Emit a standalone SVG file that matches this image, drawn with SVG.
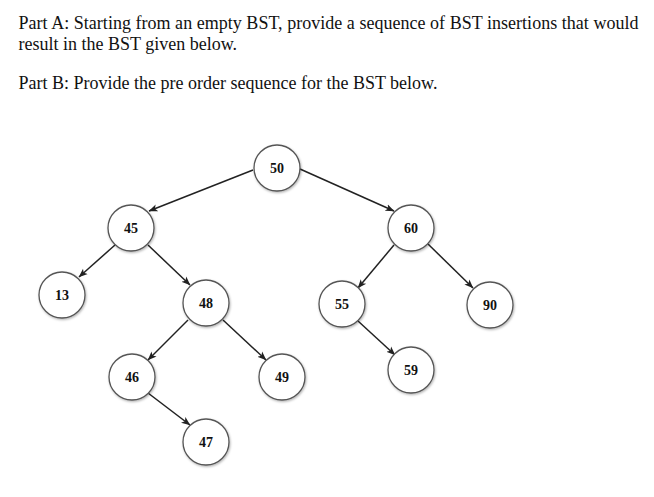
<svg xmlns="http://www.w3.org/2000/svg" width="654" height="497" viewBox="0 0 654 497">
<style>
.q{font-family:"Liberation Serif","Times New Roman",serif;font-size:18px;fill:#111}
.n circle{fill:#fff;stroke:#555;stroke-width:1.3}
.n text{font-family:"Liberation Serif","Times New Roman",serif;font-size:14px;font-weight:bold;fill:#111;text-anchor:middle}
.e line{stroke:#222;stroke-width:1.5}
</style>
<defs>
<marker id="ah" viewBox="0 0 10 10" refX="9.5" refY="5" markerWidth="9" markerHeight="9" markerUnits="userSpaceOnUse" orient="auto">
<path d="M0,1 L10,5 L0,9 L2.5,5 Z" fill="#222"/>
</marker>
<filter id="sh" x="-30%" y="-30%" width="160%" height="160%">
<feDropShadow dx="0.8" dy="1.2" stdDeviation="1" flood-color="#000" flood-opacity="0.3"/>
</filter>
</defs>
<rect width="654" height="497" fill="#fff"/>
<text class="q" x="18.5" y="29" textLength="620" lengthAdjust="spacing">Part A: Starting from an empty BST, provide a sequence of BST insertions that would</text>
<text class="q" x="18.5" y="50">result in the BST given below.</text>
<text class="q" x="18.5" y="89">Part B: Provide the pre order sequence for the BST below.</text>
<g id="edges" class="e">
<line x1="253" y1="170" x2="149" y2="211" marker-end="url(#ah)"/>
<line x1="300" y1="169" x2="394" y2="211" marker-end="url(#ah)"/>
<line x1="115" y1="245" x2="79" y2="277" marker-end="url(#ah)"/>
<line x1="148" y1="245" x2="190" y2="285" marker-end="url(#ah)"/>
<line x1="188" y1="320" x2="148" y2="360" marker-end="url(#ah)"/>
<line x1="223" y1="320" x2="266" y2="360" marker-end="url(#ah)"/>
<line x1="394" y1="245" x2="358" y2="288" marker-end="url(#ah)"/>
<line x1="428" y1="244" x2="473" y2="288" marker-end="url(#ah)"/>
<line x1="358" y1="321" x2="395" y2="355" marker-end="url(#ah)"/>
<line x1="148" y1="393" x2="190" y2="425" marker-end="url(#ah)"/>
</g>
<g id="n50" class="n"><circle cx="277" cy="168" r="23" filter="url(#sh)"/><text x="277" y="173">50</text></g>
<g id="n45" class="n"><circle cx="131" cy="228" r="23" filter="url(#sh)"/><text x="131" y="233">45</text></g>
<g id="n60" class="n"><circle cx="411" cy="228" r="23" filter="url(#sh)"/><text x="411" y="233">60</text></g>
<g id="n13" class="n"><circle cx="62" cy="295" r="23" filter="url(#sh)"/><text x="62" y="300">13</text></g>
<g id="n48" class="n"><circle cx="206" cy="303" r="23" filter="url(#sh)"/><text x="206" y="308">48</text></g>
<g id="n55" class="n"><circle cx="342" cy="304" r="23" filter="url(#sh)"/><text x="342" y="309">55</text></g>
<g id="n90" class="n"><circle cx="490" cy="305" r="23" filter="url(#sh)"/><text x="490" y="310">90</text></g>
<g id="n46" class="n"><circle cx="132" cy="377" r="23" filter="url(#sh)"/><text x="132" y="382">46</text></g>
<g id="n49" class="n"><circle cx="282" cy="377" r="23" filter="url(#sh)"/><text x="282" y="382">49</text></g>
<g id="n59" class="n"><circle cx="411" cy="370" r="23" filter="url(#sh)"/><text x="411" y="375">59</text></g>
<g id="n47" class="n"><circle cx="206" cy="442" r="23" filter="url(#sh)"/><text x="206" y="447">47</text></g>
</svg>
